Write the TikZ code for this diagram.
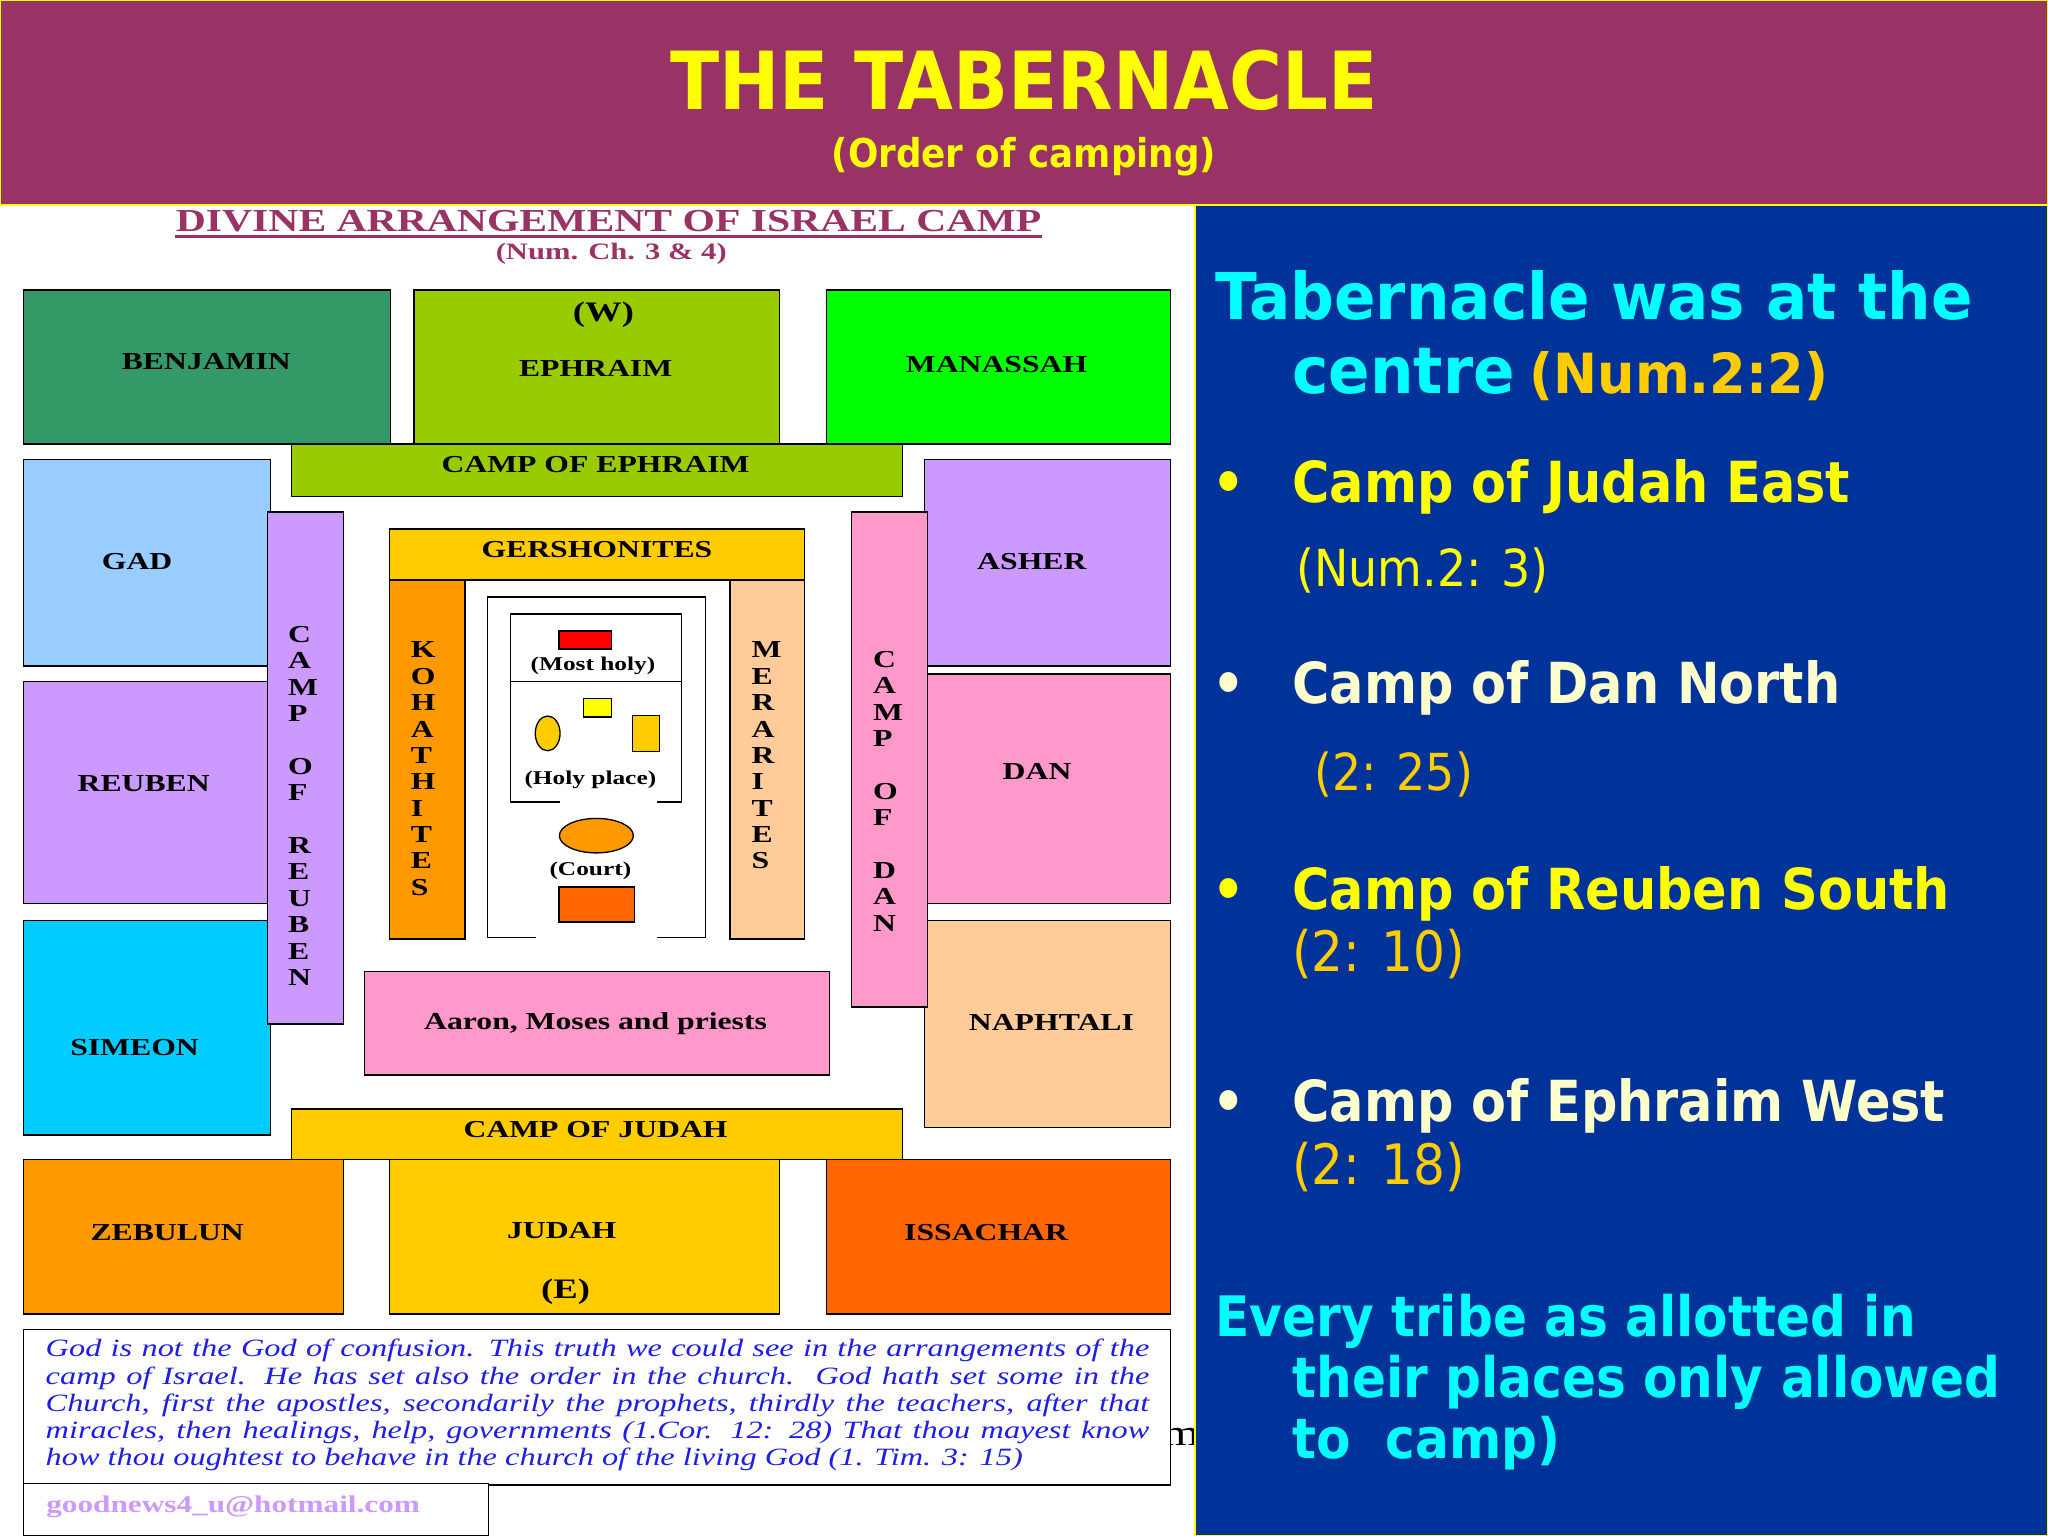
\documentclass[tikz,border=0pt]{standalone}
\usepackage{fontspec}
\usetikzlibrary{shapes.geometric}
\newfontfamily\campfont[FakeStretch=1.3]{Liberation Serif}
\newfontfamily\slidefont[FakeStretch=0.9]{DejaVu Sans}
\newfontfamily\headfont[FakeStretch=0.95]{DejaVu Sans}
\definecolor{banner}{RGB}{153,51,102}
\definecolor{panel}{RGB}{0,51,153}
\definecolor{seagreen}{RGB}{51,153,102}
\definecolor{olive}{RGB}{153,204,0}
\definecolor{lime}{RGB}{0,255,0}
\definecolor{skyblue}{RGB}{153,204,255}
\definecolor{lilac}{RGB}{204,153,255}
\definecolor{rosepink}{RGB}{255,153,204}
\definecolor{aqua}{RGB}{0,204,255}
\definecolor{peach}{RGB}{255,204,153}
\definecolor{gold}{RGB}{255,204,0}
\definecolor{amber}{RGB}{255,153,0}
\definecolor{flame}{RGB}{255,102,0}
\definecolor{cream}{RGB}{255,255,204}
\definecolor{verse}{RGB}{30,30,230}
\definecolor{brightcyan}{RGB}{0,255,255}
\definecolor{brightyellow}{RGB}{255,255,0}
\definecolor{brightred}{RGB}{255,0,0}
\tikzset{every picture/.style={line width=0.75pt}}
\tikzset{
	campbox/.style={draw=black,line width=0.75pt},
	campname/.style={font=\campfont\bfseries\fontsize{14}{16}\selectfont,inner sep=0pt,anchor=base},
	campmark/.style={font=\campfont\bfseries\fontsize{16.2}{18}\selectfont,inner sep=0pt,anchor=base},
	camproom/.style={font=\campfont\bfseries\fontsize{11.2}{13}\selectfont,inner sep=0pt,anchor=base},
	campcolumn/.style={font=\campfont\bfseries\fontsize{14}{15.15}\selectfont,inner sep=0pt,anchor=north west,align=left},
	slidehead/.style={font=\headfont\bfseries\fontsize{37}{40}\selectfont,inner sep=0pt,anchor=base west},
	slidecamp/.style={font=\slidefont\bfseries\fontsize{32.5}{36}\selectfont,inner sep=0pt,anchor=base west},
	slideline/.style={font=\slidefont\bfseries\fontsize{32}{36}\selectfont,inner sep=0pt,anchor=base west},
	slideref/.style={font=\slidefont\fontsize{29.3}{34}\selectfont,inner sep=0pt,anchor=base west,text=gold},
	slidewide/.style={font=\slidefont\fontsize{32}{34}\selectfont,inner sep=0pt,anchor=base west,text=gold}}

\begin{document}
\begin{tikzpicture}[x=0.75pt,y=0.75pt,yscale=-1,xscale=1]
	\useasboundingbox (0,0) rectangle (1568,1176);

	% Stray letter behind the verse box
	\node [font=\campfont\fontsize{21}{24}\selectfont,inner sep=0pt] (strayletter) at (904,1100) {m};

	% Banner
	\draw [draw=brightyellow,fill=banner,line width=1pt] (0,0) rectangle (1568,157);
	\node [font=\slidefont\bfseries\fontsize{46}{50}\selectfont,text=brightyellow,inner sep=0pt,anchor=base] (title) at (784,84) {THE TABERNACLE};
	\node [font=\slidefont\bfseries\fontsize{22.8}{26}\selectfont,text=brightyellow,inner sep=0pt,anchor=base] (subtitle) at (784,128) {(Order of camping)};

	% Panel
	\draw [draw=brightyellow,fill=panel,line width=1pt] (915,157) rectangle (1568,1176);

	% Heading of the plan
	\node [font=\campfont\bfseries\fontsize{18.4}{20}\selectfont,text=banner,inner sep=0pt,anchor=base] (planhead) at (466,177) {DIVINE ARRANGEMENT OF ISRAEL CAMP};
	\draw [draw=banner,line width=1.5pt] (134,181) -- (798,181);
	\node [font=\campfont\bfseries\fontsize{13.5}{15}\selectfont,text=banner,inner sep=0pt,anchor=base] (plansub) at (468,199) {(Num. Ch. 3 \& 4)};

	% West
	\draw [campbox,fill=seagreen] (18,222) rectangle (299,340);
	\draw [campbox,fill=olive] (317,222) rectangle (597,340);
	\draw [campbox,fill=lime] (633,222) rectangle (896,340);
	\draw [campbox,fill=olive] (223,340) rectangle (691,380);
	% Sides
	\draw [campbox,fill=skyblue] (18,352) rectangle (207,510);
	\draw [campbox,fill=lilac] (18,522) rectangle (207,692);
	\draw [campbox,fill=aqua] (18,705) rectangle (207,869);
	\draw [campbox,fill=lilac] (205,392) rectangle (263,784);
	\draw [campbox,fill=lilac] (708,352) rectangle (896,510);
	\draw [campbox,fill=rosepink] (708,516) rectangle (896,692);
	\draw [campbox,fill=peach] (708,705) rectangle (896,863);
	\draw [campbox,fill=rosepink] (652,392) rectangle (710,771);
	% Levites
	\draw [campbox,fill=gold] (298,405) rectangle (616,444);
	\draw [campbox,fill=amber] (298,444) rectangle (356,719);
	\draw [campbox,fill=peach] (559,444) rectangle (616,719);
	% Priests
	\draw [campbox,fill=rosepink] (279,744) rectangle (635,823);
	% East
	\draw [campbox,fill=amber] (18,888) rectangle (263,1006);
	\draw [campbox,fill=gold] (298,888) rectangle (597,1006);
	\draw [campbox,fill=flame] (633,888) rectangle (896,1006);
	\draw [campbox,fill=gold] (223,849) rectangle (691,888);

	% Court and tent
	\draw [campbox] (410,718) -- (373,718) -- (373,457) -- (540,457) -- (540,718) -- (503,718);
	\draw [campbox] (429,614) -- (391,614) -- (391,470) -- (522,470) -- (522,614) -- (503,614);
	\draw [campbox] (391,522) -- (522,522);
	\draw [campbox,fill=brightred] (428,483) rectangle (468,497);
	\draw [campbox,fill=brightyellow] (447,535) rectangle (468,549);
	\draw [campbox,fill=gold] (419.3,561.5) ellipse (9.5 and 13.3);
	\draw [campbox,fill=gold] (484,548) rectangle (505,575.5);
	\draw [campbox,fill=amber] (456.6,639.8) ellipse (28.3 and 13.2);
	\draw [campbox,fill=flame] (428,679) rectangle (486,706);

	% Text Node
	\node [campname] (benjamin) at (158,283) {BENJAMIN};
	\node [campmark] (west) at (462,246) {(W)};
	\node [campname] (ephraim) at (456,288) {EPHRAIM};
	\node [campname] (manassah) at (763,285) {MANASSAH};
	\node [campname] (campephraim) at (456,362) {CAMP OF EPHRAIM};
	\node [campname] (gad) at (105,436) {GAD};
	\node [campname] (reuben) at (110,606) {REUBEN};
	\node [campname] (simeon) at (103,808) {SIMEON};
	\node [campname] (asher) at (790,436) {ASHER};
	\node [campname] (dan) at (794,597) {DAN};
	\node [campname] (naphtali) at (805,789) {NAPHTALI};
	\node [campname] (gershonites) at (457,427) {GERSHONITES};
	\node [campname] (priests) at (456,788) {Aaron, Moses and priests};
	\node [campname] (campjudah) at (456,871) {CAMP OF JUDAH};
	\node [campname] (zebulun) at (128,950) {ZEBULUN};
	\node [campname] (judah) at (430,948) {JUDAH};
	\node [campmark] (east) at (433,994) {(E)};
	\node [campname] (issachar) at (755,950) {ISSACHAR};
	\node [camproom] (mostholy) at (454,513) {(Most holy)};
	\node [camproom] (holyplace) at (452,601) {(Holy place)};
	\node [camproom] (court) at (452,670) {(Court)};
	\node [campcolumn] (campreuben) at (220,479) {C\\A\\M\\P\\[15.15pt]O\\F\\[15.15pt]R\\E\\U\\B\\E\\N};
	\node [campcolumn] (campdan) at (668,498) {C\\A\\M\\P\\[15.15pt]O\\F\\[15.15pt]D\\A\\N};
	\node [campcolumn] (kohathites) at (314,491) {K\\O\\H\\A\\T\\H\\I\\T\\E\\S};
	\node [campcolumn] (merarites) at (575,491) {M\\E\\R\\A\\R\\I\\T\\E\\S};

	% Verse box
	\draw [campbox,fill=white] (18,1018) rectangle (896,1137);
	\node [font=\campfont\itshape\fontsize{14.3}{15.55}\selectfont,text=verse,inner sep=0pt,anchor=north west,text width=633.75pt,align=justify] (verses) at (34.5,1025) {God is not the God of confusion. This truth we could see in the arrangements of the\linebreak camp of Israel. He has set also the order in the church.\ \ God hath set some in the\linebreak Church, first the apostles, secondarily the prophets, thirdly the teachers, after that\linebreak miracles, then healings, help, governments (1.Cor. 12: 28) That thou mayest know\linebreak how thou oughtest to behave in the church of the living God (1. Tim. 3: 15)};
	\draw [campbox,fill=white] (18,1136) rectangle (374,1176);
	\node [font=\campfont\bfseries\fontsize{13.8}{15}\selectfont,text=lilac,inner sep=0pt,anchor=base west] (email) at (35,1158) {goodnews4\_u@hotmail.com};

	% Text of the panel
	\node [slidehead,text=brightcyan] (centreone) at (930,245) {Tabernacle was at the};
	\node [slidehead,text=brightcyan] (centretwo) at (989,301) {centre\hspace{-3.75pt} {\color{gold}\fontsize{31.8}{36}\selectfont (Num.2:2)}};
	\node [slidecamp,text=brightyellow] (judahbullet) at (928,385) {•};
	\node [slidecamp,text=brightyellow] (judaheast) at (989,385) {Camp of Judah East};
	\node [slideref,text=brightyellow] (judahref) at (992,449) {(Num.2: 3)};
	\node [slidecamp,text=cream] (danbullet) at (928,539) {•};
	\node [slidecamp,text=cream] (dannorth) at (989,539) {Camp of Dan North};
	\node [slideref] (danref) at (1006,605) {(2: 25)};
	\node [slidecamp,text=brightyellow] (reubenbullet) at (928,696) {•};
	\node [slidecamp,text=brightyellow] (reubensouth) at (989,696) {Camp of Reuben South};
	\node [slidewide] (reubenref) at (989,744) {(2: 10)};
	\node [slidecamp,text=cream] (ephraimbullet) at (928,859) {•};
	\node [slidecamp,text=cream] (ephraimwest) at (989,859) {Camp of Ephraim West};
	\node [slidewide] (ephraimref) at (989,907) {(2: 18)};
	\node [slideline,text=brightcyan] (tribeone) at (930,1023) {Every tribe as allotted in};
	\node [slideline,text=brightcyan] (tribetwo) at (989,1070) {their places only allowed};
	\node [slideline,text=brightcyan] (tribethree) at (989,1117) {to\ \ camp)};
\end{tikzpicture}
\end{document}
